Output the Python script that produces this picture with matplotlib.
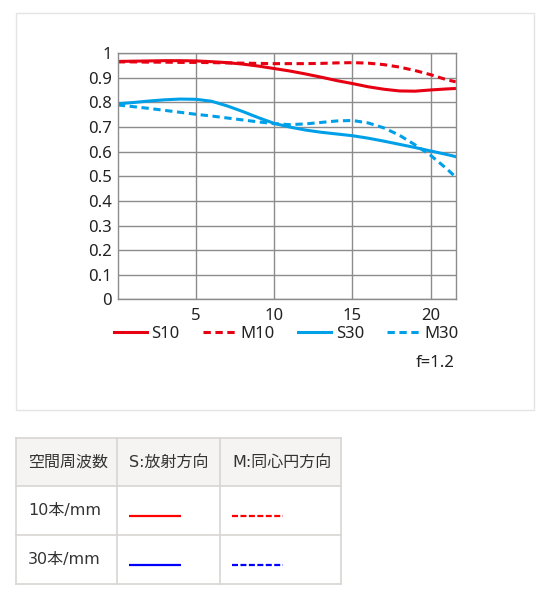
import numpy as np
import matplotlib.pyplot as plt
from matplotlib.patches import Rectangle

plt.rcParams['font.family'] = ['Noto Sans', 'Noto Sans CJK JP', 'DejaVu Sans']

# MTF data
x_mm = [0, 1, 2, 3, 4, 5, 6, 7, 8, 9, 10, 11, 12, 13, 14, 15, 16, 17, 18, 19, 20, 21, 21.6]
s10 = [.967, .968, .969, .970, .970, .969, .966, .962, .956, .948, .938, .928, .916, .903, .889, .877, .864, .854, .847, .846, .851, .855, .857]
m10 = [.965, .965, .964, .964, .963, .963, .962, .961, .960, .959, .958, .958, .958, .959, .961, .962, .960, .954, .944, .930, .913, .893, .884]
s30 = [.795, .800, .806, .811, .814, .813, .805, .786, .763, .738, .715, .700, .688, .679, .672, .665, .655, .643, .630, .617, .603, .589, .580]
m30 = [.790, .783, .776, .768, .760, .752, .745, .737, .729, .721, .714, .710, .713, .719, .725, .727, .717, .697, .667, .628, .585, .532, .497]

legend_names = ['S10', 'M10', 'S30', 'M30']
yticks = [0, .1, .2, .3, .4, .5, .6, .7, .8, .9, 1]
ytick_labels = ['0', '0.1', '0.2', '0.3', '0.4', '0.5', '0.6', '0.7', '0.8', '0.9', '1']
xticks = [5, 10, 15, 20]

table_header = ['空間周波数', 'S:放射方向', 'M:同心円方向']
table_rows = ['10本/mm', '30本/mm']

RED = '#e60012'
BLUE = '#00a0e9'
W, H = 558, 600

fig = plt.figure(figsize=(W / 100, H / 100), dpi=100)

# background layer in pixel coordinates
bg = fig.add_axes([0, 0, 1, 1], zorder=0)
bg.set_xlim(0, W)
bg.set_ylim(H, 0)
bg.axis('off')
bg.add_patch(Rectangle((15.5, 12.5), 518.5, 397, fill=False, ec='#e4e4e4', lw=1))

# chart
def px2fig(l, t, r, b):
    return [l / W, 1 - b / H, (r - l) / W, (b - t) / H]

ax = fig.add_axes(px2fig(117.8, 53.3, 455.7, 299.3), zorder=2)
ax.plot(x_mm, s10, color=RED, lw=2.2, label=legend_names[0])
ax.plot(x_mm, m10, color=RED, lw=2.2, ls=(0, (2.4, 1.5)), label=legend_names[1])
ax.plot(x_mm, s30, color=BLUE, lw=2.2, label=legend_names[2])
ax.plot(x_mm, m30, color=BLUE, lw=2.2, ls=(0, (2.4, 1.5)), label=legend_names[3])
ax.set_xlim(0, 21.6)
ax.set_ylim(0, 1)
ax.set_yticks(yticks)
ax.set_yticklabels(ytick_labels)
ax.set_xticks(xticks)
ax.tick_params(length=0, labelsize=12, colors='#222222')
ax.tick_params(axis='y', pad=4.5)
ax.tick_params(axis='x', pad=6)
ax.grid(True, color='#8c8c8c', lw=1)
ax.set_axisbelow(True)
for sp in ax.spines.values():
    sp.set_color('#8c8c8c')
    sp.set_linewidth(1)

ax.legend(loc='upper left', bbox_to_anchor=(114 / W, 1 - 326 / H), bbox_transform=fig.transFigure,
          ncol=4, frameon=False, fontsize=12, handlelength=2.0, handletextpad=0.25,
          columnspacing=1.4, borderpad=0, borderaxespad=0, labelcolor='#222222')
fig.text(455 / W, 1 - 363 / H, 'f=1.2', ha='right', va='center', fontsize=12, color='#222222')

# table
col_x = [16, 117, 220, 341]
row_y = [438, 486, 535, 584]
bg.add_patch(Rectangle((col_x[0], row_y[0]), col_x[-1] - col_x[0], row_y[1] - row_y[0],
                       fc='#f5f4f2', ec='none'))
for cx in col_x:
    bg.plot([cx, cx], [row_y[0], row_y[-1]], color='#d8d5d2', lw=1.2)
for ry in row_y:
    bg.plot([col_x[0], col_x[-1]], [ry, ry], color='#d8d5d2', lw=1.2)

tfont = ['DejaVu Sans', 'Noto Sans CJK JP']
for i, head in enumerate(table_header):
    bg.text(col_x[i] + 12, (row_y[0] + row_y[1]) / 2, head, ha='left', va='center',
            fontsize=11.5, color='#333333', family=tfont)
sample_colors = ['#ff0000', '#0000ff']
for j, name in enumerate(table_rows):
    yc = (row_y[j + 1] + row_y[j + 2]) / 2
    bg.text(col_x[0] + 12, yc, name, ha='left', va='center', fontsize=11.5, color='#333333', family=tfont)
    bg.plot([129, 181], [yc + 5, yc + 5], color=sample_colors[j], lw=1.6, solid_capstyle='butt')
    bg.plot([232, 283], [yc + 5, yc + 5], color=sample_colors[j], lw=1.6, ls=(0, (2.7, 1.1)))

fig.savefig('out.png', dpi=100)
